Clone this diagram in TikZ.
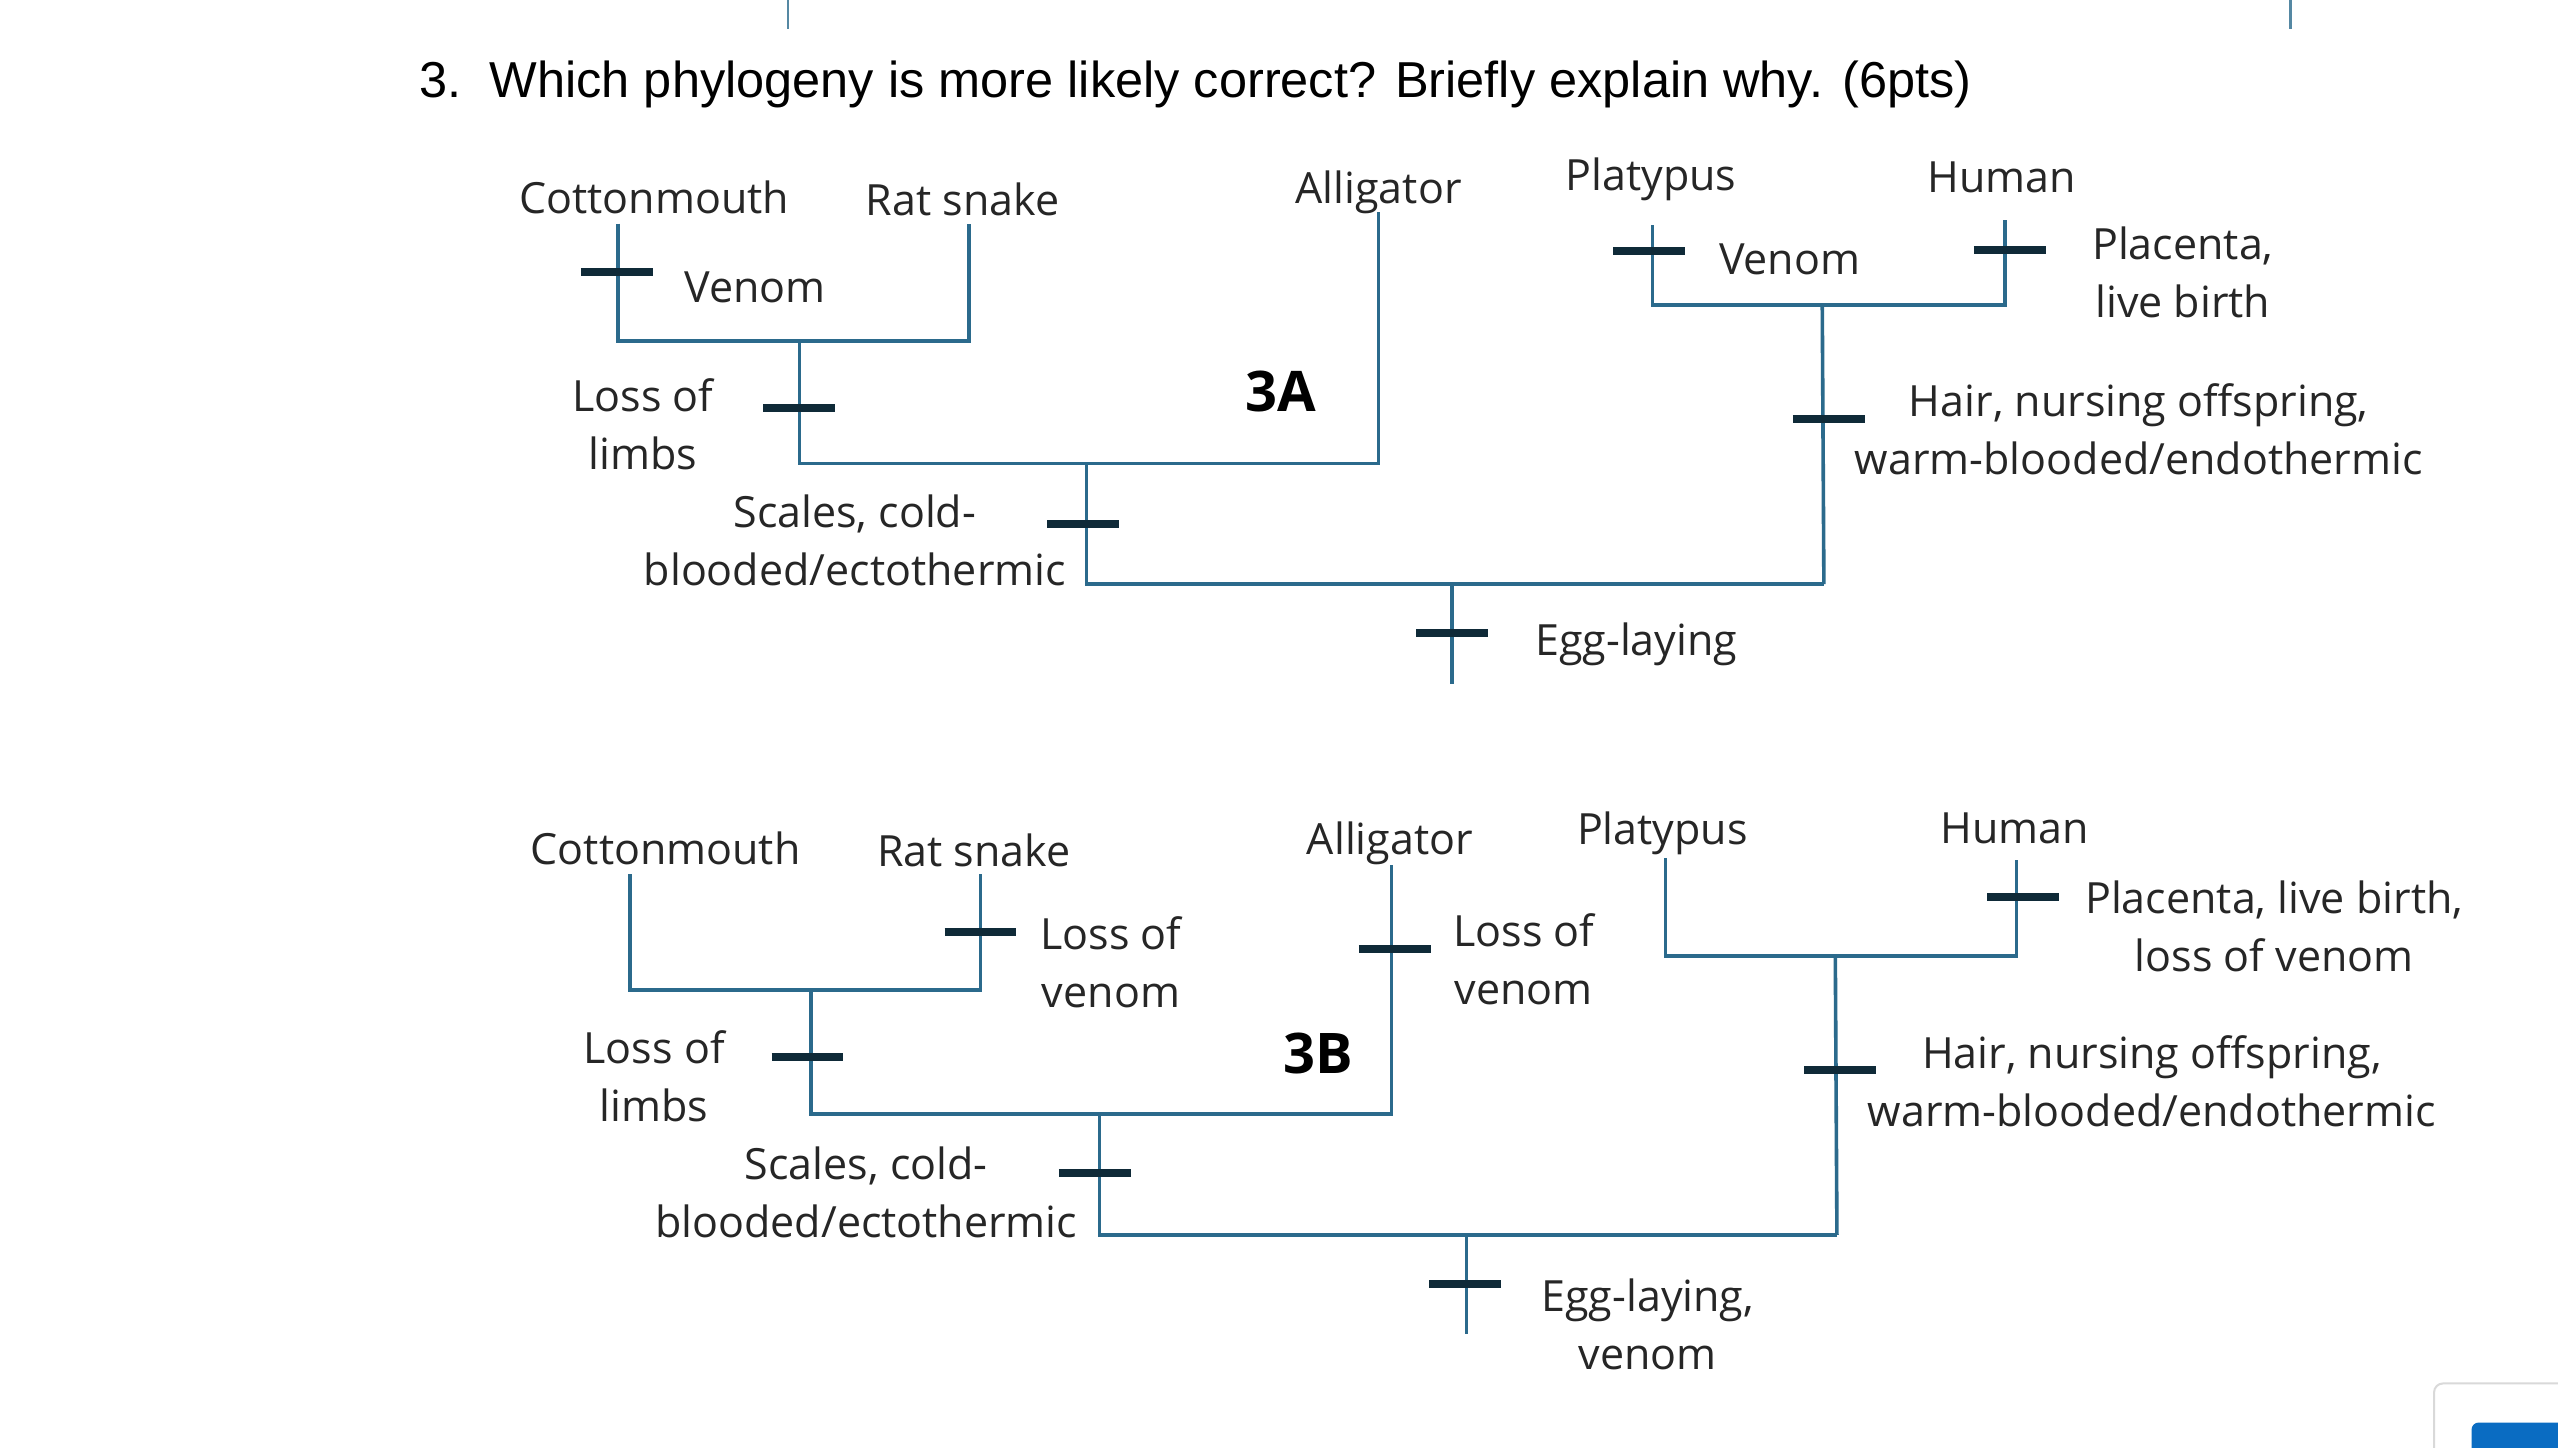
\documentclass[tikz,border=0pt]{standalone}
\usepackage{fontspec}
\setmainfont{Open Sans}
\newfontfamily\titlefont{Liberation Sans}
\definecolor{branch}{HTML}{2B6A8C}
\definecolor{tickc}{HTML}{0F2A38}
\definecolor{btn}{HTML}{0A6CC2}
\begin{document}
\begin{tikzpicture}[x=1.6314pt,y=-1.6314pt,
  br/.style={draw=branch,line width=3.6pt},
  tk/.style={draw=tickc,line width=8pt},
  lab/.style={font=\fontsize{43}{58}\selectfont,text=black!85,inner sep=0pt,align=center},
  big/.style={font=\fontsize{56}{60}\selectfont\bfseries,inner sep=0pt}]
\useasboundingbox (0,0) rectangle (1568,887);
\fill[white] (0,0) rectangle (1568,887);
% top lines
\coordinate (t1a) at (483,0); \coordinate (t1b) at (483,18);
\coordinate (t2a) at (1404,0); \coordinate (t2b) at (1404,18);
\draw[br,draw=branch!80,line width=2.5pt] (t1a)--(t1b) (t2a)--(t2b);
\node[anchor=west,inner sep=0pt,font=\titlefont\fontsize{50.5}{58}\selectfont] (title) at (257,52) {3.\ \ Which phylogeny is more likely correct? Briefly explain why. (6pts)};
% ---------- 3A ----------
\foreach \n/\x/\y in {a1/379/137,a2/379/209,a3/594/137,a4/594/209,a5/490/209,a6/490/284,a7/845/130,a8/845/284,a9/666/284,a10/666/358,a11/1118/358,a12/1013/138,a13/1013/187,a14/1229/135,a15/1229/187,a16/1117/187,a17/890/358,a18/890/419}
  {\coordinate (\n) at (\x,\y);}
\draw[br] (a1)--(a2)--(a4)--(a3);
\draw[br] (a5)--(a6)--(a8)--(a7);
\draw[br] (a9)--(a10)--(a11);
\draw[br] (a12)--(a13)--(a15)--(a14);
\draw[br] (a16)--(a11);
\draw[br] (a17)--(a18);
\foreach \n/\x/\y in {ka1/378/167,ka2/490/250,ka3/664/321,ka4/890/388,ka5/1011/154,ka6/1232/153,ka7/1121/257}
  {\coordinate (\n) at (\x,\y); \draw[tk] ([xshift=-22*1.6314pt]\n)--([xshift=22*1.6314pt]\n);}
\node[lab] (la1) at (401,121) {Cottonmouth};
\node[lab] (la2) at (590,122) {Rat snake};
\node[lab] (la3) at (845,118) {Alligator};
\node[lab] (la4) at (1012,110) {Platypus};
\node[lab] (la5) at (1227,109) {Human};
\node[lab] (la6) at (463,176) {Venom};
\node[lab] (la7) at (394,260) {Loss of\\limbs};
\node[big] (la8) at (785,240) {3A};
\node[lab] (la9) at (524,331) {Scales, cold-\\blooded/ectothermic};
\node[lab] (la10) at (1003,395) {Egg-laying};
\node[lab] (la11) at (1097,159) {Venom};
\node[lab] (la12) at (1338,167) {Placenta,\\live birth};
\node[lab] (la13) at (1311,263) {Hair, nursing offspring,\\warm-blooded/endothermic};
% ---------- 3B ----------
\foreach \n/\x/\y in {b1/386/536,b2/386/607,b3/601/536,b4/601/607,b5/497/607,b6/497/683,b7/853/530,b8/853/683,b9/674/683,b10/674/757,b11/1126/757,b12/1021/526,b13/1021/586,b14/1236/527,b15/1236/586,b16/1125/586,b17/899/757,b18/899/818}
  {\coordinate (\n) at (\x,\y);}
\draw[br] (b1)--(b2)--(b4)--(b3);
\draw[br] (b5)--(b6)--(b8)--(b7);
\draw[br] (b9)--(b10)--(b11);
\draw[br] (b12)--(b13)--(b15)--(b14);
\draw[br] (b16)--(b11);
\draw[br] (b17)--(b18);
\foreach \n/\x/\y in {kb1/601/571,kb2/495/648,kb3/855/582,kb4/671/719,kb5/898/787,kb6/1240/550,kb7/1128/656}
  {\coordinate (\n) at (\x,\y); \draw[tk] ([xshift=-22*1.6314pt]\n)--([xshift=22*1.6314pt]\n);}
\node[lab] (lb1) at (408,520) {Cottonmouth};
\node[lab] (lb2) at (597,521) {Rat snake};
\node[lab] (lb3) at (852,517) {Alligator};
\node[lab] (lb4) at (1019,511) {Platypus};
\node[lab] (lb5) at (1235,508) {Human};
\node[lab] (lb6) at (681,590) {Loss of\\venom};
\node[lab] (lb7) at (934,588) {Loss of\\venom};
\node[big] (lb8) at (808,646) {3B};
\node[lab] (lb9) at (401,660) {Loss of\\limbs};
\node[lab] (lb10) at (531,731) {Scales, cold-\\blooded/ectothermic};
\node[lab] (lb11) at (1010,812) {Egg-laying,\\venom};
\node[lab] (lb12) at (1394,568) {Placenta, live birth,\\loss of venom};
\node[lab] (lb13) at (1319,663) {Hair, nursing offspring,\\warm-blooded/endothermic};
% corner widget
\draw[black!15,line width=2pt,rounded corners=9pt] (1492,900)--(1492,848)--(1580,848);
\fill[btn,rounded corners=7pt] (1515,872) rectangle (1590,920);
\end{tikzpicture}
\end{document}
